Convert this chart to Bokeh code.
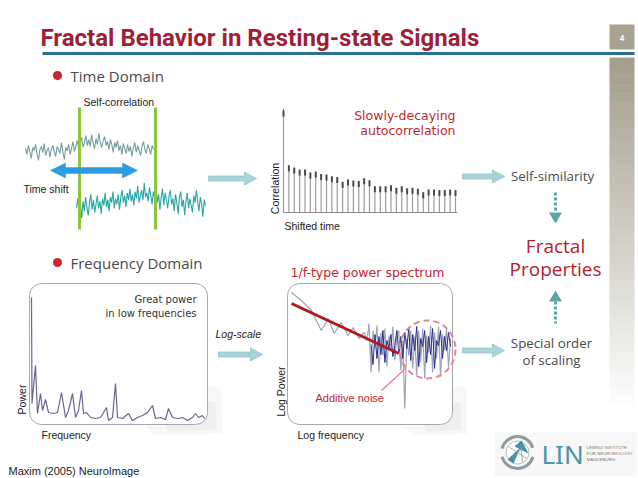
import math
from bokeh.plotting import figure
from bokeh.models import Range1d
from bokeh.embed import file_html
from bokeh.resources import INLINE
from bokeh.core.properties import value

# ---------------- data ----------------
signal_a = [2, -4, 5, -1, -8, 3, 0, 6, -3, -10, 1, 4, -2, 7, -5, 0, 3, -7, 2, 5,
            -1, -6, 4, 1, -3, 8, -2, -9, 3, 0, 6, -4, 2, 9, -1, 4, 10, 2, 7, 13,
            3, 8, 15, 5, 11, 4, 16, 7, 2, 12, 6, 17, 8, 3, 10, 14, 5, 9, 1, 11,
            6, -2, 8, 3, 10, 0, 5, -4, 7, 2, -3, 6, -1, 4, -6, 3, 8, -2, 5, 0,
            -5, 4, 9, 1, -3, 6, 2, -4, 5, 1]
signal_b = [-2, 5, -6, 1, -9, 3, -4, 6, -1, -7, 2, 8, -3, 4, -5, 1, 7, -2, 3, -6,
            5, 0, 9, -1, 4, -4, 6, 2, 10, -2, 5, 1, 8, -3, 6, 11, 2, 7, -1, 9,
            4, 12, 3, 8, 0, 10, 5, 14, 2, 7, 11, 4, 16, 6, 9, 3, 13, 7, 1, 10,
            5, 15, 2, 8, -3, 6, 12, 0, 9, 4, -2, 7, 11, 1, 5, -4, 8, 2, -6, 6,
            10, -1, 4, -7, 3, 9, -2, 5, 0, -5, 7, 2, 11, 3, -4, 6, 1, -8, 4, 0]
lags = list(range(33))
autocorr = [1.0, 0.447, 0.424, 0.403, 0.403, 0.373, 0.383, 0.359, 0.353, 0.336, 0.329,
            0.281, 0.302, 0.292, 0.288, 0.315, 0.295, 0.234, 0.234, 0.234, 0.244,
            0.220, 0.234, 0.214, 0.220, 0.210, 0.173, 0.203, 0.203, 0.197, 0.197,
            0.203, 0.197]
lin_freq = [0, 0.5, 4, 6, 9, 11, 14, 17, 22, 26, 30, 34, 37, 41, 44, 47, 50, 52, 55, 59,
            64, 69, 75, 77, 81, 84, 86, 91, 97, 101, 106, 111, 116, 121, 124, 129, 134,
            137, 141, 146, 151, 156, 161, 164, 167, 171, 173]
lin_power = [125, 19, 57, 9, 29, 12, 23, 10, 9, 10, 30, 5, 12, 29, 5, 12, 32, 9, 10, 5,
             4, 5, 15, 2, 5, 39, 5, 4, 9, 2, 5, 7, 10, 17, 4, 5, 3,
             14, 5, 4, 5, 2, 5, 9, 5, 7, 4]
log_freq = [0, 10, 20, 30, 37, 43, 50, 57, 62, 68, 73, 76, 78,
            80, 82, 84, 86, 88, 90, 92, 94, 96, 98, 100, 102, 104, 106, 108, 110, 112,
            114, 116, 118, 120, 122, 124, 126, 128, 130, 132, 134, 136, 138, 140, 142,
            144, 146, 148, 150, 152, 154, 156, 158, 160]
log_power = [13.2, 12.4, 11.4, 9.4, 10.6, 9.1, 10.2, 8.9, 9.7, 8.6, 9.2, 8.4, 10.1,
             5.2, 9.4, 7.6, 9.9, 5.2, 9.2, 6.9, 9.6, 5.8, 8.9, 7.4, 9.8, 6.4, 8.9, 9.4, 5.4, 8.4,
             1.6, 8.6, 6.9, 9.4, 5.6, 8.8, 4.9, 9.4, 6.2, 9.6, 4.6, 8.9, 7.2, 9.9, 5.2,
             9.2, 6.6, 9.8, 4.8, 9.0, 7.4, 9.6, 5.6, 8.6]
noise_freq = [80, 82, 84, 86, 88, 90, 92, 94, 96, 98, 100, 102, 104, 106, 108, 110, 112,
              114, 116, 118, 120, 122, 124, 126, 128, 130, 132, 134, 136, 138, 140, 142,
              144, 146, 148, 150, 152, 154, 156, 158, 160]
noise_power = [8.0, 6.0, 9.0, 6.6, 8.8, 7.0, 9.4, 6.2, 8.4, 7.6, 9.0, 6.8, 7.9, 9.4, 7.2,
               8.8, 6.6, 9.2, 7.6, 9.6, 6.4, 9.0, 7.4, 9.8, 5.8, 8.6, 7.8, 9.4, 6.2, 8.8,
               7.0, 9.6, 5.6, 8.4, 7.9, 9.4, 6.6, 8.8, 7.4, 9.2, 7.8]
fit_freq = [0, 108]
fit_power = [12.1, 7.1]

title_text = "Fractal Behavior in Resting-state Signals"

# ---------------- figure in slide pixel coordinates ----------------
p = figure(width=638, height=478, x_range=Range1d(0, 638), y_range=Range1d(478, 0),
           output_backend="svg", toolbar_location=None, x_axis_type=None, y_axis_type=None,
           min_border=0, outline_line_color=None, background_fill_color="white",
           border_fill_color="white")
p.grid.visible = False


def T(x, y, s, size, color="#404040", font="Open Sans", align="left",
      baseline="middle", style="normal", angle=0.0):
    p.text(x=[x], y=[y], text=[s], text_font=value(font),
           text_font_size=value(f"{size}px"), text_color=color, text_align=align,
           text_baseline=baseline, text_font_style=style, angle=angle)


def right_arrow(x0, x1, yc, shaft, head_h, head_l):
    hs, hh = shaft / 2, head_h / 2
    xs = [x0, x1 - head_l, x1 - head_l, x1, x1 - head_l, x1 - head_l, x0]
    ys = [yc - hs, yc - hs, yc - hh, yc, yc + hh, yc + hs, yc + hs]
    return xs, ys


def double_arrow(x0, x1, yc, shaft, head_h, head_l):
    hs, hh = shaft / 2, head_h / 2
    xs = [x0, x0 + head_l, x0 + head_l, x1 - head_l, x1 - head_l, x1,
          x1 - head_l, x1 - head_l, x0 + head_l, x0 + head_l]
    ys = [yc, yc - hh, yc - hs, yc - hs, yc - hh, yc, yc + hh, yc + hs, yc + hs, yc + hh]
    return xs, ys


# ---- sidebar with gradient and page number ----
n_strips = 40
sb_top, sb_bot = 57, 414
c0, c1 = (164, 158, 141), (255, 255, 255)
lefts, rights, tops, bots, cols = [], [], [], [], []
for i in range(n_strips):
    t = i / (n_strips - 1)
    col = tuple(int(c0[k] + (c1[k] - c0[k]) * t) for k in range(3))
    cols.append("#%02x%02x%02x" % col)
    tops.append(sb_top + (sb_bot - sb_top) * i / n_strips)
    bots.append(sb_top + (sb_bot - sb_top) * (i + 1) / n_strips + 0.5)
    lefts.append(609)
    rights.append(634)
p.quad(left=lefts, right=rights, top=tops, bottom=bots, fill_color=cols, line_color=None)
p.quad(left=[609], right=[634], top=[24], bottom=[49], fill_color="#A8A290", line_color=None)
T(621.5, 37, "4", 8, color="white", font="Open Sans", align="center", style="bold")

# ---- title ----
T(40, 37, title_text, 24, color="#9E1F36", font="Roboto", baseline="middle", style="bold")
p.segment(x0=[42], y0=[53], x1=[634], y1=[53], line_color="#2B6E8E", line_width=3.2)

# ---- bullets ----
p.scatter(x=[57, 57], y=[75, 262], size=9, marker="circle", fill_color="#C9252C", line_color=None)
T(70, 75, "Time Domain", 15, color="#4A4A4A")
T(70, 262, "Frequency Domain", 15, color="#4A4A4A")

# ---- time domain signals ----
ts_a = p.subplot(x_source=Range1d(0, len(signal_a) - 1), y_source=Range1d(-20, 20),
                 x_target=Range1d(25, 153), y_target=Range1d(170, 130))
ts_a.line(x=list(range(len(signal_a))), y=signal_a, line_color="#739E9E", line_width=1.1)
ts_b = p.subplot(x_source=Range1d(0, len(signal_b) - 1), y_source=Range1d(-20, 20),
                 x_target=Range1d(76, 205), y_target=Range1d(233, 177))
ts_b.line(x=list(range(len(signal_b))), y=signal_b, line_color="#2AA6A6", line_width=1.1)

p.segment(x0=[79, 155], y0=[107, 107], x1=[79, 155], y1=[229, 229],
          line_color="#8CC63F", line_width=3)
dx, dy = double_arrow(50, 137, 170, 6, 15, 15)
p.patch(x=dx, y=dy, fill_color="#2B9CDD", line_color="#2B9CDD", line_width=0.5)
T(83, 101, "Self-correlation", 10.5, color="#222222", font="Liberation Sans")
T(23, 188, "Time shift", 10.5, color="#222222", font="Liberation Sans")

# ---- light arrows ----
for (ax0, ax1, ay) in [(208, 256, 178), (462, 504, 176), (218, 262, 354), (462, 504, 350)]:
    axs, ays = right_arrow(ax0, ax1, ay, 5, 13, 12)
    p.patch(x=axs, y=ays, fill_color="#A9D4D6", line_color="#93C6C9", line_width=0.8)

# ---- autocorrelation stem plot ----
p.segment(x0=[283, 283], y0=[108, 212], x1=[283, 457], y1=[212, 212],
          line_color="#8A8A8A", line_width=1)
ac = p.subplot(x_source=Range1d(0, 32), y_source=Range1d(0, 1),
               x_target=Range1d(283, 455), y_target=Range1d(212, 113))
ac.segment(x0=lags, y0=[0] * len(lags), x1=lags, y1=autocorr, line_color="#9C9C9C", line_width=1.2)
ac.scatter(x=lags, y=autocorr, marker="dash", angle=math.pi / 2, size=6,
           line_color="#4A4A4A", line_width=2)
T(455, 115, "Slowly-decaying", 12.5, color="#C0282E", font="DejaVu Sans", align="right")
T(455, 130, "autocorrelation", 12.5, color="#C0282E", font="DejaVu Sans", align="right")
T(274, 188, "Correlation", 10.5, color="#222222", font="Liberation Sans", align="center",
  angle=math.pi / 2)
T(284, 225, "Shifted time", 10.5, color="#222222", font="Liberation Sans")

# ---- right column ----
T(552, 175, "Self-similarity", 13.3, color="#4A4A4A", align="center")
p.segment(x0=[555], y0=[192], x1=[555], y1=[212], line_color="#5BA5A7", line_width=3,
          line_dash="3 2")
p.patch(x=[548.5, 561.5, 555], y=[212, 212, 223], fill_color="#5BA5A7", line_color=None)
T(555, 245, "Fractal", 19, color="#B3202C", align="center")
T(555, 268, "Properties", 19, color="#B3202C", align="center")
p.patch(x=[548.5, 561.5, 555], y=[301, 301, 290], fill_color="#5BA5A7", line_color=None)
p.segment(x0=[555], y0=[301], x1=[555], y1=[323], line_color="#5BA5A7", line_width=3,
          line_dash="3 2")
T(551, 342, "Special order", 13.3, color="#4A4A4A", align="center")
T(551, 359, "of scaling", 13.3, color="#4A4A4A", align="center")

# ---- box shadows (subtle) ----
for (L, R, B) in [(29, 207, 424), (287, 452, 424)]:
    p.patch(x=[L + 115, R - 6, R + 14, R + 15, L + 125],
            y=[B, B - 40, B - 36, B + 9, B + 11], fill_color="#999999",
            fill_alpha=0.07, line_color=None)
    p.patch(x=[L + 135, R - 3, R + 8, R + 9, L + 140],
            y=[B, B - 24, B - 22, B + 5, B + 7], fill_color="#888888",
            fill_alpha=0.08, line_color=None)

# ---- linear power spectrum box ----
p.quad(left=[29], right=[207], top=[283], bottom=[424], fill_color="white",
       line_color="#A8A8A8", line_width=1, border_radius=12)
ps = p.subplot(x_source=Range1d(0, 174), y_source=Range1d(0, 125),
               x_target=Range1d(31, 205), y_target=Range1d(422, 297))
ps.line(x=lin_freq, y=lin_power, line_color="#666690", line_width=1.2)
T(196, 299, "Great power", 10, color="#333333", font="DejaVu Sans", align="right")
T(196, 313, "in low frequencies", 10, color="#333333", font="DejaVu Sans", align="right")
T(21, 399, "Power", 10.5, color="#222222", font="Liberation Sans", align="center",
  angle=math.pi / 2)
T(41, 434, "Frequency", 10.5, color="#222222", font="Liberation Sans")
T(215, 333, "Log-scale", 10.5, color="#222222", font="Liberation Sans", style="italic")

# ---- log power spectrum box ----
p.quad(left=[287], right=[452], top=[283], bottom=[424], fill_color="white",
       line_color="#A8A8A8", line_width=1, border_radius=12)
lp = p.subplot(x_source=Range1d(0, 160), y_source=Range1d(0, 14),
               x_target=Range1d(291, 450), y_target=Range1d(424, 284))
lp.line(x=log_freq, y=log_power, line_color="#9EA3BE", line_width=1.2)
lp.line(x=noise_freq, y=noise_power, line_color="#2A2E8C", line_width=1)
lp.line(x=fit_freq, y=fit_power, line_color="#B0191E", line_width=3)
p.ellipse(x=[427], y=[349], width=[56], height=[58], fill_color=None,
          line_color="#E8848F", line_width=2, line_dash="6 4")
p.segment(x0=[381], y0=[390], x1=[405], y1=[368], line_color="#E8848F", line_width=1.5)
T(315, 397, "Additive noise", 11, color="#C0282E", font="Liberation Sans")
T(290, 272, "1/f-type power spectrum", 12.5, color="#C0282E", font="DejaVu Sans")
T(280, 391, "Log Power", 10.5, color="#222222", font="Liberation Sans", align="center",
  angle=math.pi / 2)
T(297, 434, "Log frequency", 10.5, color="#222222", font="Liberation Sans")

# ---- logo ----
p.quad(left=[494], right=[636], top=[432], bottom=[476], fill_color="#F7F7F7", line_color=None)
p.arc(x=[517, 517], y=[452, 452], radius=16, start_angle=[0.3, 3.4], end_angle=[2.9, 6.0],
      line_color="#8E9BA1", line_width=3)
p.circle(x=[517], y=[452], radius=11.5, fill_color="white", line_color="#B8C2C6", line_width=1)
p.patch(x=[507, 520, 513], y=[459, 447, 463], fill_color="#3F8FA6", line_color=None)
p.patch(x=[514, 528, 521], y=[446, 453, 440], fill_color="#3F8FA6", line_color=None)
p.segment(x0=[508, 512, 520], y0=[446, 458, 444], x1=[526, 525, 522], y1=[458, 444, 462],
          line_color="#8E9BA1", line_width=0.8)
T(541, 453, "LIN", 26, color="#4A95AA", font="Noto Sans")
T(586, 447, "LEIBNIZ INSTITUTE", 4.4, color="#777777", font="Liberation Sans")
T(586, 453, "FOR NEUROBIOLOGY", 4.4, color="#777777", font="Liberation Sans")
T(586, 459, "MAGDEBURG", 4.4, color="#777777", font="Liberation Sans")

# ---- citation ----
T(8, 470, "Maxim (2005) NeuroImage", 11, color="#222222", font="Liberation Sans")

open("out.html", "w").write(file_html(p, INLINE))
